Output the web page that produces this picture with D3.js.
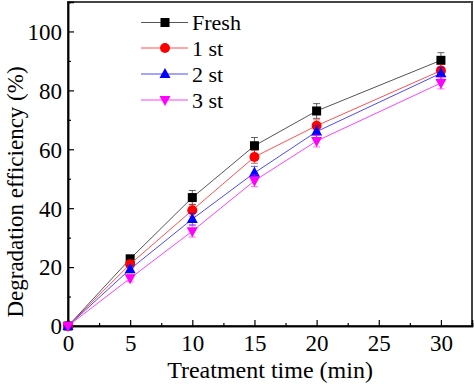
<!DOCTYPE html>
<html>
<head>
<meta charset="utf-8">
<script src="https://cdn.jsdelivr.net/npm/d3@7"></script>
<style>
  body { margin: 0; background: #fff; }
  svg text { font-family: "Liberation Serif", "DejaVu Serif", serif !important; fill: #000; }
</style>
</head>
<body>
<div id="chart"></div>
<script>
// data
const times = [0, 5, 10, 15, 20, 30];
const seriesNames = ["Fresh", "1 st", "2 st", "3 st"];
const fresh = [0, 22.8, 43.6, 61.2, 73.0, 90.2];
const first = [0, 21.0, 39.3, 57.4, 68.0, 86.7];
const second = [0, 19.3, 36.3, 52.0, 66.0, 85.8];
const third = [0, 16.2, 32.2, 49.3, 62.8, 82.5];
const freshErr = [0, 1.2, 2.4, 2.8, 2.5, 2.6];
const firstErr = [0, 1.2, 2.0, 2.2, 2.0, 2.0];
const secondErr = [0, 1.2, 2.0, 2.2, 2.0, 2.0];
const thirdErr = [0, 1.2, 2.0, 2.0, 2.0, 2.0];
const xTicks = [0, 5, 10, 15, 20, 25, 30];
const yTicks = [0, 20, 40, 60, 80, 100];

const series = [
  { name: seriesNames[0], vals: fresh, err: freshErr, color: "#000000", line: "#555555", shape: "square" },
  { name: seriesNames[1], vals: first, err: firstErr, color: "#ff0000", line: "#ff5050", shape: "circle" },
  { name: seriesNames[2], vals: second, err: secondErr, color: "#0000ff", line: "#4a4aff", shape: "up" },
  { name: seriesNames[3], vals: third, err: thirdErr, color: "#ff00ff", line: "#ff40ff", shape: "down" }
];

const W = 474, H = 387;
const mLeft = 68, mRight = 472, mTop = 2, mBottom = 326;

const svg = d3.select("#chart").append("svg")
  .attr("width", W)
  .attr("height", H);

const x = d3.scaleLinear().domain([0, 32.5]).range([mLeft, mRight]);
const y = d3.scaleLinear().domain([0, 110]).range([mBottom, mTop]);

// frame
svg.append("rect")
  .attr("x", mLeft).attr("y", mTop)
  .attr("width", mRight - mLeft).attr("height", mBottom - mTop)
  .attr("fill", "none")
  .attr("stroke", "#444")
  .attr("stroke-width", 2);

// axes with inward ticks
const xAxis = svg.append("g")
  .attr("transform", `translate(0,${mBottom})`)
  .call(d3.axisBottom(x).tickValues(xTicks).tickSize(-6).tickPadding(9).tickFormat(d3.format("d")));
const yAxis = svg.append("g")
  .attr("transform", `translate(${mLeft},0)`)
  .call(d3.axisLeft(y).tickValues(yTicks).tickSize(-6).tickPadding(6).tickFormat(d3.format("d")));

// minor ticks
svg.append("g")
  .attr("transform", `translate(0,${mBottom})`)
  .call(d3.axisBottom(x).tickValues([2.5, 7.5, 12.5, 17.5, 22.5, 27.5, 32.5]).tickSize(-3).tickFormat(""));
svg.append("g")
  .attr("transform", `translate(${mLeft},0)`)
  .call(d3.axisLeft(y).tickValues([10, 30, 50, 70, 90, 110]).tickSize(-3).tickFormat(""));

svg.selectAll(".domain").attr("stroke", "#000").attr("stroke-width", 1.5);
svg.selectAll(".tick line").attr("stroke", "#000").attr("stroke-width", 1.2);
xAxis.selectAll("text").style("font-size", "23px");
yAxis.selectAll("text").style("font-size", "23px").attr("dy", "0.34em");

// axis titles
svg.append("text")
  .attr("x", 270)
  .attr("y", 378)
  .attr("text-anchor", "middle")
  .style("font-size", "24px")
  .text("Treatment time (min)");
svg.append("text")
  .attr("transform", `translate(23,192) rotate(-90)`)
  .attr("text-anchor", "middle")
  .style("font-size", "23px")
  .text("Degradation efficiency (%)");

function marker(g, shape, color) {
  if (shape === "square") {
    g.append("rect").attr("x", -4.5).attr("y", -4.5).attr("width", 9).attr("height", 9).attr("fill", color);
  } else if (shape === "circle") {
    g.append("circle").attr("r", 5).attr("fill", color);
  } else if (shape === "up") {
    g.append("path").attr("d", "M0,-6L5.5,4L-5.5,4Z").attr("fill", color);
  } else {
    g.append("path").attr("d", "M0,6L5.5,-4L-5.5,-4Z").attr("fill", color);
  }
}

const line = d3.line().x((d, i) => x(times[i])).y(d => y(d));

series.forEach(s => {
  svg.append("path")
    .datum(s.vals)
    .attr("d", line)
    .attr("fill", "none")
    .attr("stroke", s.line)
    .attr("stroke-width", 1);

  const eb = svg.append("g");
  s.vals.forEach((v, i) => {
    if (s.err[i] <= 0) return;
    const cx = x(times[i]);
    eb.append("line")
      .attr("x1", cx).attr("x2", cx)
      .attr("y1", y(v - s.err[i])).attr("y2", y(v + s.err[i]))
      .attr("stroke", s.color).attr("stroke-opacity", 0.6).attr("stroke-width", 1);
    [v - s.err[i], v + s.err[i]].forEach(e => {
      eb.append("line")
        .attr("x1", cx - 3.5).attr("x2", cx + 3.5)
        .attr("y1", y(e)).attr("y2", y(e))
        .attr("stroke", s.color).attr("stroke-opacity", 0.6).attr("stroke-width", 1);
    });
  });

  s.vals.forEach((v, i) => {
    const g = svg.append("g").attr("transform", `translate(${x(times[i])},${y(v)})`);
    marker(g, s.shape, s.color);
  });
});

// legend
const legendY = [22.5, 48, 74, 100];
series.forEach((s, i) => {
  const g = svg.append("g").attr("transform", `translate(141,${legendY[i]})`);
  g.append("line").attr("x1", 0).attr("x2", 47).attr("y1", 0).attr("y2", 0)
    .attr("stroke", s.line).attr("stroke-width", 1);
  const m = g.append("g").attr("transform", "translate(24,0)");
  marker(m, s.shape, s.color);
  g.append("text").attr("x", 51).attr("y", 7.5).style("font-size", "22px").text(s.name);
});

svg.selectAll("text").style("font-family", "'Liberation Serif', 'DejaVu Serif', serif");
</script>
</body>
</html>
